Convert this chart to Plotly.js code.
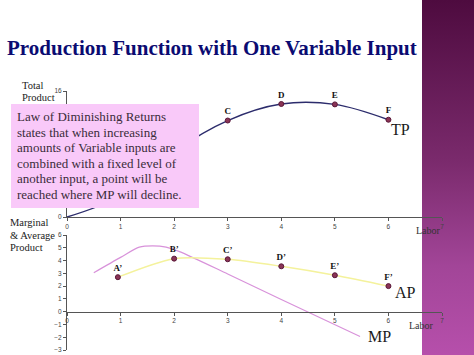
<!DOCTYPE html>
<html>
<head>
<meta charset="utf-8">
<script src="https://cdn.plot.ly/plotly-3.0.1.min.js"></script>
<style>
html,body{margin:0;padding:0;}
body{width:474px;height:355px;overflow:hidden;
background: linear-gradient(to bottom,#4e0b3f 0%,#7a2a6c 45%,#a24598 75%,#b64fab 100%) no-repeat right top / 52px 100%, #ffffff;}
#chart{width:474px;height:355px;}
</style>
</head>
<body>
<div id="chart"></div>
<script>
// ---- data ----
const tpLabor = [0, 1, 2, 3, 4, 5, 6];
const tpValues = [0, 2.7, 8.3, 12.25, 14.35, 14.3, 12.35];
// A and B lie under the text box in the reference, so their labels are not shown
const tpPointLabels = ["", "", "", "C", "D", "E", "F"];

const apLabor = [0.95, 2, 3, 4, 5, 6];
const apValues = [2.7, 4.15, 4.1, 3.55, 2.85, 2.0];
const apPointLabels = ["A\u2019", "B\u2019", "C\u2019", "D\u2019", "E\u2019", "F\u2019"];

const mpLabor = [0.5, 1.0, 1.35, 1.6, 1.85, 2.1, 3.0, 4.0, 5.47];
const mpValues = [3.05, 4.25, 5.05, 5.15, 5.05, 4.7, 2.95, 0.95, -1.95];

const xTicks = [0, 1, 2, 3, 4, 5, 6, 7];
const tpYTicks = [0, 16];
const mpYTicks = [-3, -2, -1, 0, 1, 2, 3, 4, 5, 6];

const boxLines = [
  "Law of Diminishing Returns",
  "states that when increasing",
  "amounts of Variable inputs are",
  "combined with a fixed level of",
  "another input, a point will be",
  "reached where MP will decline."
];

// ---- geometry helpers (pixel -> paper) ----
const L = 67, R = 442, T = 91, B = 350;
const px = v => (v - L) / (R - L);
const py = v => (B - v) / (B - T);

const serif = "Liberation Serif, Times New Roman, serif";
const markerStyle = {size: 5, color: "#8a3456", line: {color: "#5a1838", width: 1}};
const labelFont = {family: serif, size: 9, color: "#111111", weight: "bold"};

const traces = [
  {x: tpLabor, y: tpValues, xaxis: "x", yaxis: "y", mode: "lines",
   line: {color: "#2c2c6c", width: 1.4, shape: "spline", smoothing: 1}, hoverinfo: "skip"},
  {x: tpLabor.slice(1), y: tpValues.slice(1), xaxis: "x", yaxis: "y", mode: "markers+text",
   text: tpPointLabels.slice(1), textposition: "top center", textfont: labelFont,
   marker: markerStyle, cliponaxis: false},
  {x: mpLabor, y: mpValues, xaxis: "x2", yaxis: "y2", mode: "lines",
   line: {color: "#d892da", width: 1.2, shape: "spline", smoothing: 0.8}},
  {x: apLabor, y: apValues, xaxis: "x2", yaxis: "y2", mode: "lines",
   line: {color: "#f4f29c", width: 1.5, shape: "spline", smoothing: 0.8}},
  {x: apLabor, y: apValues, xaxis: "x2", yaxis: "y2", mode: "markers+text",
   text: apPointLabels, textposition: "top center", textfont: labelFont,
   marker: markerStyle, cliponaxis: false}
];

const axisCommon = {
  showline: true, linecolor: "#555555", linewidth: 1, showgrid: false, zeroline: false,
  ticks: "outside", ticklen: 3, tickcolor: "#555555",
  tickfont: {family: "Liberation Sans, Arial, sans-serif", size: 6.5, color: "#444444"}
};

const annotations = [];
function txt(text, x, y, size, opts) {
  annotations.push(Object.assign({
    text: text, xref: "paper", yref: "paper", x: px(x), y: py(y),
    xanchor: "left", yanchor: "middle", showarrow: false,
    font: {family: serif, size: size, color: "#222222"}
  }, opts || {}));
}
txt("Total", 20, 85, 10.5);
txt("Product", 20, 97.7, 10.5);
txt("Marginal", 8, 222.7, 10.5);
txt("& Average", 8, 235, 10.5);
txt("Product", 8, 247.3, 10.5);
txt("Labor", 428, 230.7, 10, {xanchor: "center", font: {family: serif, size: 10, color: "#333333"}});
txt("Labor", 421, 325, 10, {xanchor: "center", font: {family: serif, size: 10, color: "#333333"}});
txt("TP", 400, 129, 16, {xanchor: "center", font: {family: serif, size: 16, color: "#1a1a1a"}});
txt("AP", 405.5, 292, 16, {xanchor: "center", font: {family: serif, size: 16, color: "#1a1a1a"}});
txt("MP", 379, 336, 16, {xanchor: "center", font: {family: serif, size: 16, color: "#1a1a1a"}});
boxLines.forEach((s, i) => {
  txt(s, 15, 116.7 + 15.5 * i, 13, {font: {family: serif, size: 13, color: "#3a2c3a"}});
});

const layout = {
  width: 474, height: 355,
  margin: {l: L, r: 474 - R, t: T, b: 355 - B, pad: 0},
  paper_bgcolor: "rgba(0,0,0,0)", plot_bgcolor: "rgba(0,0,0,0)",
  showlegend: false,
  title: {text: "Production Function with One Variable Input",
    font: {family: serif, size: 21, color: "#0b0b72", weight: "bold"},
    x: 7 / 474, xanchor: "left", xref: "container",
    y: 1 - 48 / 355, yanchor: "middle", yref: "container"},
  xaxis: Object.assign({}, axisCommon, {range: [0, 7], tickvals: xTicks, anchor: "y"}),
  yaxis: Object.assign({}, axisCommon, {range: [0, 16], tickvals: tpYTicks,
    domain: [(B - 217) / (B - T), 1], anchor: "x"}),
  xaxis2: Object.assign({}, axisCommon, {range: [0, 7], tickvals: xTicks, anchor: "free",
    position: (3 / 9) * ((B - 235) / (B - T))}),
  yaxis2: Object.assign({}, axisCommon, {range: [-3, 6], tickvals: mpYTicks,
    domain: [0, (B - 235) / (B - T)], anchor: "x2"}),
  shapes: [{type: "rect", xref: "paper", yref: "paper", layer: "above",
    x0: px(11), x1: px(199), y0: py(208), y1: py(104),
    fillcolor: "#f9c9f9", line: {width: 0}}],
  annotations: annotations
};

Plotly.newPlot("chart", traces, layout, {staticPlot: true, displayModeBar: false});
</script>
</body>
</html>
